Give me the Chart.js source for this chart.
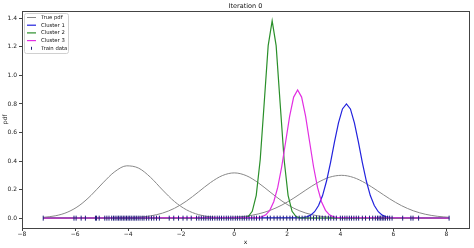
<!DOCTYPE html>
<html>
<head>
<meta charset="utf-8">
<script src="https://cdn.jsdelivr.net/npm/chart.js@4.4.1/dist/chart.umd.min.js"></script>
<style>
  html, body { margin: 0; padding: 0; background: #fff; }
  #wrap { width: 474px; height: 248px; }
</style>
</head>
<body>
<div id="wrap"><canvas id="chart" width="474" height="248"></canvas></div>
<script>
let chartTitle = 'Iteration 0';
let xLabel = 'x';
let yLabel = 'pdf';
let seriesNames = ['True pdf', 'Cluster 1', 'Cluster 2', 'Cluster 3', 'Train data'];

let xTicks = [-8, -6, -4, -2, 0, 2, 4, 6, 8];
let yTicks = [0, 0.2, 0.4, 0.6, 0.8, 1.0, 1.2, 1.4];

// grid for the three true components
let trueX = [-7.2, -6.75, -6.3, -5.85, -5.4, -4.95, -4.5, -4.05, -3.6, -3.15, -2.7, -2.25,
    -1.8, -1.35, -0.9, -0.45, 0, 0.45, 0.9, 1.35, 1.8, 2.25, 2.7, 3.15, 3.6, 4.05, 4.5,
    4.95, 5.4, 5.85, 6.3, 6.75, 7.2, 7.65, 8.1];
let trueA = [0.0055, 0.0162, 0.0407, 0.0873, 0.159, 0.247, 0.326, 0.3665, 0.35, 0.285, 0.197, 0.116,
    0.0583, 0.0249, 0.009, 0.0028, 0.0007, 0.0002, 0, 0, 0, 0, 0, 0, 0, 0, 0,
    0, 0, 0, 0, 0, 0, 0, 0];
let trueB = [0, 0, 0, 0, 0, 0.0002, 0.0007, 0.0023, 0.0065, 0.0161, 0.0355, 0.0693,
    0.1197, 0.1833, 0.2485, 0.298, 0.317, 0.298, 0.2485, 0.1833, 0.1197, 0.0693, 0.0355, 0.0161, 0.0065, 0.0023, 0.0007,
    0.0002, 0, 0, 0, 0, 0, 0, 0];
let trueC = [0, 0, 0, 0, 0, 0, 0, 0, 0, 0, 0, 0,
    0, 0.0003, 0.0009, 0.0025, 0.0063, 0.0142, 0.0292, 0.0544, 0.092, 0.141, 0.197, 0.2495, 0.287, 0.3, 0.2846,
    0.245, 0.192, 0.1365, 0.0881, 0.0517, 0.0275, 0.0133, 0.0058];

let cluster1X = [-7.2, 2.58, 2.73, 2.88, 3.03, 3.18, 3.33, 3.48, 3.63, 3.78, 3.93, 4.08, 4.23,
    4.38, 4.53, 4.68, 4.83, 4.98, 5.13, 5.28, 5.43, 5.58, 5.73, 5.88, 8.1];
let cluster1Y = [0, 0.0035, 0.0089, 0.021, 0.045, 0.088, 0.158, 0.26, 0.389, 0.534, 0.668, 0.765, 0.8,
    0.765, 0.668, 0.534, 0.389, 0.26, 0.158, 0.088, 0.045, 0.021, 0.0089, 0.0035, 0];

let cluster2X = [-7.2, 0.38, 0.53, 0.68, 0.83, 0.98, 1.13, 1.28, 1.43, 1.58, 1.73, 1.88, 2.03, 2.18, 2.33, 2.48, 8.1];
let cluster2Y = [0, 0.002, 0.011, 0.048, 0.16, 0.411, 0.806, 1.208, 1.382, 1.208, 0.806, 0.411, 0.16, 0.048, 0.011, 0.002, 0];

let cluster3X = [-7.2, 0.89, 1.04, 1.19, 1.34, 1.49, 1.64, 1.79, 1.94, 2.09, 2.24, 2.39,
    2.54, 2.69, 2.84, 2.99, 3.14, 3.29, 3.44, 3.59, 3.74, 3.89, 8.1];
let cluster3Y = [0, 0.003, 0.0088, 0.0233, 0.0548, 0.115, 0.2155, 0.36, 0.537, 0.715, 0.848, 0.898,
    0.848, 0.715, 0.537, 0.36, 0.2155, 0.115, 0.0548, 0.0233, 0.0088, 0.003, 0];

let trainX = [-7.2, -6.04, -5.96, -5.77, -5.61, -5.23, -5.19, -5.09,
    -4.88, -4.8, -4.72, -4.62, -4.55, -4.49, -4.42, -4.36, -4.3, -4.24, -4.18, -4.12, -4.06, -4.0,
    -3.94, -3.88, -3.81, -3.75, -3.69, -3.62, -3.55, -3.47, -3.4, -3.31, -3.22, -3.12, -3.03, -2.93, -2.82,
    -2.45, -2.28, -2.1, -1.93, -1.78, -1.62,
    -1.42, -1.33, -1.24, -1.15, -1.07, -0.98, -0.9, -0.82, -0.73, -0.64, -0.56, -0.48, -0.39, -0.3,
    -0.22, -0.13, -0.05, 0.04, 0.12, 0.21, 0.3, 0.38, 0.47, 0.56, 0.66, 0.75, 0.84, 0.95, 1.05,
    1.25, 1.36, 1.5, 1.62, 1.73, 1.85, 1.98, 2.1, 2.2, 2.33, 2.45, 2.56, 2.67, 2.78, 2.88, 2.99,
    3.1, 3.21, 3.32, 3.43, 3.55, 3.64, 3.75, 3.85,
    4.0, 4.08, 4.17, 4.25, 4.34, 4.42, 4.51, 4.6, 4.69, 4.83, 4.95, 5.1, 5.22, 5.32, 5.4, 5.46,
    5.52, 5.58, 5.64, 5.7, 5.78, 5.86, 5.95,
    6.35, 6.66, 6.74, 6.95, 8.1];

let colors = ['#888888', '#2222dd', '#2a8f2a', '#e22ee2', '#20207a'];
let font = '"DejaVu Sans", sans-serif';

let toPoints = (xs, ys) => xs.map((x, i) => ({x: x, y: ys[i]}));

let lineSet = (label, xs, ys, color, order, width) => ({
    label: label,
    data: toPoints(xs, ys),
    borderColor: color,
    borderWidth: width,
    pointRadius: 0,
    fill: false,
    order: order
});

let datasets = [
    Object.assign(lineSet(seriesNames[0], trueX, trueA, colors[0], 6, 1), {cubicInterpolationMode: 'monotone'}),
    Object.assign(lineSet(seriesNames[0], trueX, trueB, colors[0], 5, 1), {cubicInterpolationMode: 'monotone'}),
    Object.assign(lineSet(seriesNames[0], trueX, trueC, colors[0], 4, 1), {cubicInterpolationMode: 'monotone'}),
    lineSet(seriesNames[1], cluster1X, cluster1Y, colors[1], 3, 1.2),
    lineSet(seriesNames[2], cluster2X, cluster2Y, colors[2], 2, 1.2),
    lineSet(seriesNames[3], cluster3X, cluster3Y, colors[3], 1, 1.2),
    {
        label: seriesNames[4],
        data: trainX.map(x => ({x: x, y: 0})),
        showLine: false,
        pointStyle: 'line',
        rotation: 90,
        pointRadius: 2.5,
        pointBorderWidth: 1,
        pointBorderColor: colors[4],
        borderColor: colors[4],
        order: 0
    }
];

let decor = {
    id: 'decor',
    afterDraw(chart) {
        let ctx = chart.ctx;
        let a = chart.chartArea;
        ctx.save();
        ctx.strokeStyle = '#444';
        ctx.lineWidth = 1;
        ctx.strokeRect(a.left + 0.5, a.top + 0.5, a.right - a.left, a.bottom - a.top);

        ctx.fillStyle = '#111';
        ctx.textAlign = 'center';
        ctx.textBaseline = 'middle';
        ctx.font = '6.5px ' + font;
        ctx.fillText(chartTitle, (a.left + a.right) / 2, 6);
        ctx.font = '6px ' + font;
        ctx.fillText(xLabel, (a.left + a.right) / 2, 242);
        ctx.save();
        ctx.translate(5, (a.top + a.bottom) / 2);
        ctx.rotate(-Math.PI / 2);
        ctx.fillText(yLabel, 0, 0);
        ctx.restore();

        // legend box
        ctx.beginPath();
        ctx.roundRect(24.5, 13.5, 44, 40, 2);
        ctx.fillStyle = 'rgba(255,255,255,0.8)';
        ctx.fill();
        ctx.strokeStyle = '#d0d0d0';
        ctx.stroke();

        ctx.font = '5.3px ' + font;
        ctx.textAlign = 'left';
        seriesNames.forEach((name, i) => {
            let y = 17.5 + i * 7.7;
            ctx.strokeStyle = colors[i];
            ctx.lineWidth = i === 0 ? 1 : 1.2;
            ctx.beginPath();
            if (i < 4) {
                ctx.moveTo(27, y);
                ctx.lineTo(36, y);
            } else {
                ctx.lineWidth = 1;
                ctx.moveTo(31.5, y - 1.5);
                ctx.lineTo(31.5, y + 1.5);
            }
            ctx.stroke();
            ctx.fillStyle = '#111';
            ctx.fillText(name, 41, y);
        });
        ctx.restore();
    }
};

new Chart(document.getElementById('chart'), {
    type: 'line',
    data: {datasets: datasets},
    options: {
        responsive: false,
        animation: false,
        layout: {padding: {left: 0, top: 11, right: 5, bottom: 0}},
        plugins: {legend: {display: false}, tooltip: {enabled: false}},
        scales: {
            x: {
                type: 'linear',
                min: -8,
                max: 8.85,
                afterFit: scale => { scale.height = 20; },
                afterBuildTicks: scale => { scale.ticks = xTicks.map(v => ({value: v})); },
                border: {display: false},
                grid: {drawOnChartArea: false, drawTicks: true, tickLength: 3, tickColor: '#444'},
                ticks: {
                    padding: 0,
                    maxRotation: 0,
                    color: '#222',
                    font: {family: font, size: 6},
                    callback: v => String(v).replace('-', '\u2212')
                }
            },
            y: {
                type: 'linear',
                min: -0.069,
                max: 1.451,
                afterFit: scale => { scale.width = 22; },
                afterBuildTicks: scale => { scale.ticks = yTicks.map(v => ({value: v})); },
                border: {display: false},
                grid: {drawOnChartArea: false, drawTicks: true, tickLength: 3, tickColor: '#444'},
                ticks: {
                    padding: 2,
                    color: '#222',
                    font: {family: font, size: 6},
                    callback: v => v.toFixed(1)
                }
            }
        }
    },
    plugins: [decor]
});
</script>
</body>
</html>
